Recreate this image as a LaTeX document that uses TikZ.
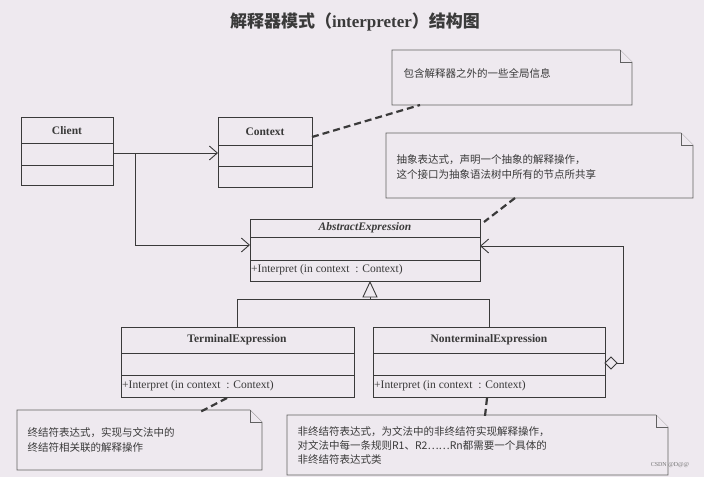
\documentclass[tikz,border=0pt]{standalone}
\usepackage{fontspec}
\setmainfont{Liberation Serif}
\newfontfamily\cjk{Noto Sans CJK SC}
\usetikzlibrary{arrows.meta,shapes.geometric}
\definecolor{bg}{HTML}{EEE9EF}
\definecolor{ln}{HTML}{3A3A3A}
\tikzset{
 cls/.style={draw=ln,line width=0.9pt},
 nm/.style={font=\bfseries\fontsize{11.5}{13}\selectfont,text=ln},
 op/.style={font=\fontsize{11.5}{13}\selectfont,text=ln,anchor=west,inner sep=1pt},
 nt/.style={font=\cjk\fontsize{10.5}{15}\selectfont,text=ln,anchor=west,align=left},
 note/.style={draw=ln!80,line width=0.6pt,fill=bg},
 dsh/.style={draw=ln,line width=2.2pt,dash pattern=on 7pt off 4pt},
 assoc/.style={draw=ln,line width=0.9pt,-{Straight Barb[length=8pt,width=14pt]}},
}
\newcommand{\notebox}[5]{% x1 y1 x2 y2 name
 \draw[note] (#1,#2) -- (#3-12,#2) -- (#3,#2+12) -- (#3,#4) -- (#1,#4) -- cycle;
 \draw[note] (#3-12,#2) -- (#3-12,#2+12) -- (#3,#2+12);
 \coordinate (#5) at (#1,#2);}
\begin{document}
\begin{tikzpicture}[x=1pt,y=-1pt]
\fill[bg] (0,0) rectangle (704,477);
\useasboundingbox (0,0) rectangle (704,477);
\node[font=\cjk\bfseries\fontsize{17}{20}\selectfont,text=ln] (title) at (355,22) {解释器模式（\textrm{\bfseries interpreter}）结构图};
% Client
\draw[cls] (21,117) rectangle (113,185);
\draw[cls] (21,143) -- (113,143) (21,165) -- (113,165);
\node[nm] (client) at (67,131) {Client};
% Context
\draw[cls] (218,117) rectangle (312,187);
\draw[cls] (218,145) -- (312,145) (218,166) -- (312,166);
\node[nm] (context) at (265,132) {Context};
% Abstract
\draw[cls] (250,219) rectangle (480,281);
\draw[cls] (250,237) -- (480,237) (250,260) -- (480,260);
\node[nm,font=\bfseries\itshape\fontsize{11.5}{13}\selectfont] (abs) at (365,228) {AbstractExpression};
\node[op] (absop) at (250,270) {+Interpret (in context \ : Context)};
% Terminal
\draw[cls] (121,327) rectangle (354,397);
\draw[cls] (121,353) -- (354,353) (121,375) -- (354,375);
\node[nm] (term) at (237,340) {TerminalExpression};
\node[op] (termop) at (121,386) {+Interpret (in context \ : Context)};
% Nonterminal
\draw[cls] (373,327) rectangle (605,397);
\draw[cls] (373,353) -- (605,353) (373,375) -- (605,375);
\node[nm] (nonterm) at (489,340) {NonterminalExpression};
\node[op] (ntop) at (373,386) {+Interpret (in context \ : Context)};
% associations
\draw[assoc] (113,153) -- (218,153);
\draw[assoc] (135,153) -- (135,245) -- (250,245);
% inheritance
\draw[draw=ln,line width=0.9pt] (237,327) -- (237,299) -- (489,299) -- (489,327);
\draw[draw=ln,line width=0.9pt] (370,299) -- (370,297);
\draw[draw=ln,line width=0.9pt,fill=bg] (370,282) -- (377,297) -- (363,297) -- cycle;
% aggregation
\draw[draw=ln,line width=0.9pt,fill=bg] (605,363) -- (611,357) -- (617,363) -- (611,369) -- cycle;
\draw[assoc] (617,363) -- (623,363) -- (623,246) -- (480,246);
% notes
\notebox{392}{50}{632}{105}{n1}
\node[nt] at (400,73) {包含解释器之外的一些全局信息};
\notebox{386}{133}{693}{198}{n2}
\node[nt] at (393,167) {抽象表达式，声明一个抽象的解释操作，\\这个接口为抽象语法树中所有的节点所共享};
\notebox{17}{410}{262}{470}{n3}
\node[nt] at (24,440) {终结符表达式，实现与文法中的\\终结符相关联的解释操作};
\notebox{287}{415}{668}{475}{n4}
\node[nt,font=\cjk\fontsize{10.5}{14}\selectfont] at (294,445) {非终结符表达式，为文法中的非终结符实现解释操作，\\对文法中每一条规则R1、R2……Rn都需要一个具体的\\非终结符表达式类};
% dashed links
\draw[dsh] (312,137) -- (420,105);
\draw[dsh] (515,198) -- (484,222);
\draw[dsh] (227,398) -- (200,412);
\draw[dsh] (487,398) -- (485,416);
\node[font=\fontsize{6}{7}\selectfont,text=ln!70] (csdn) at (670,465) {CSDN @D@@};
\end{tikzpicture}
\end{document}
